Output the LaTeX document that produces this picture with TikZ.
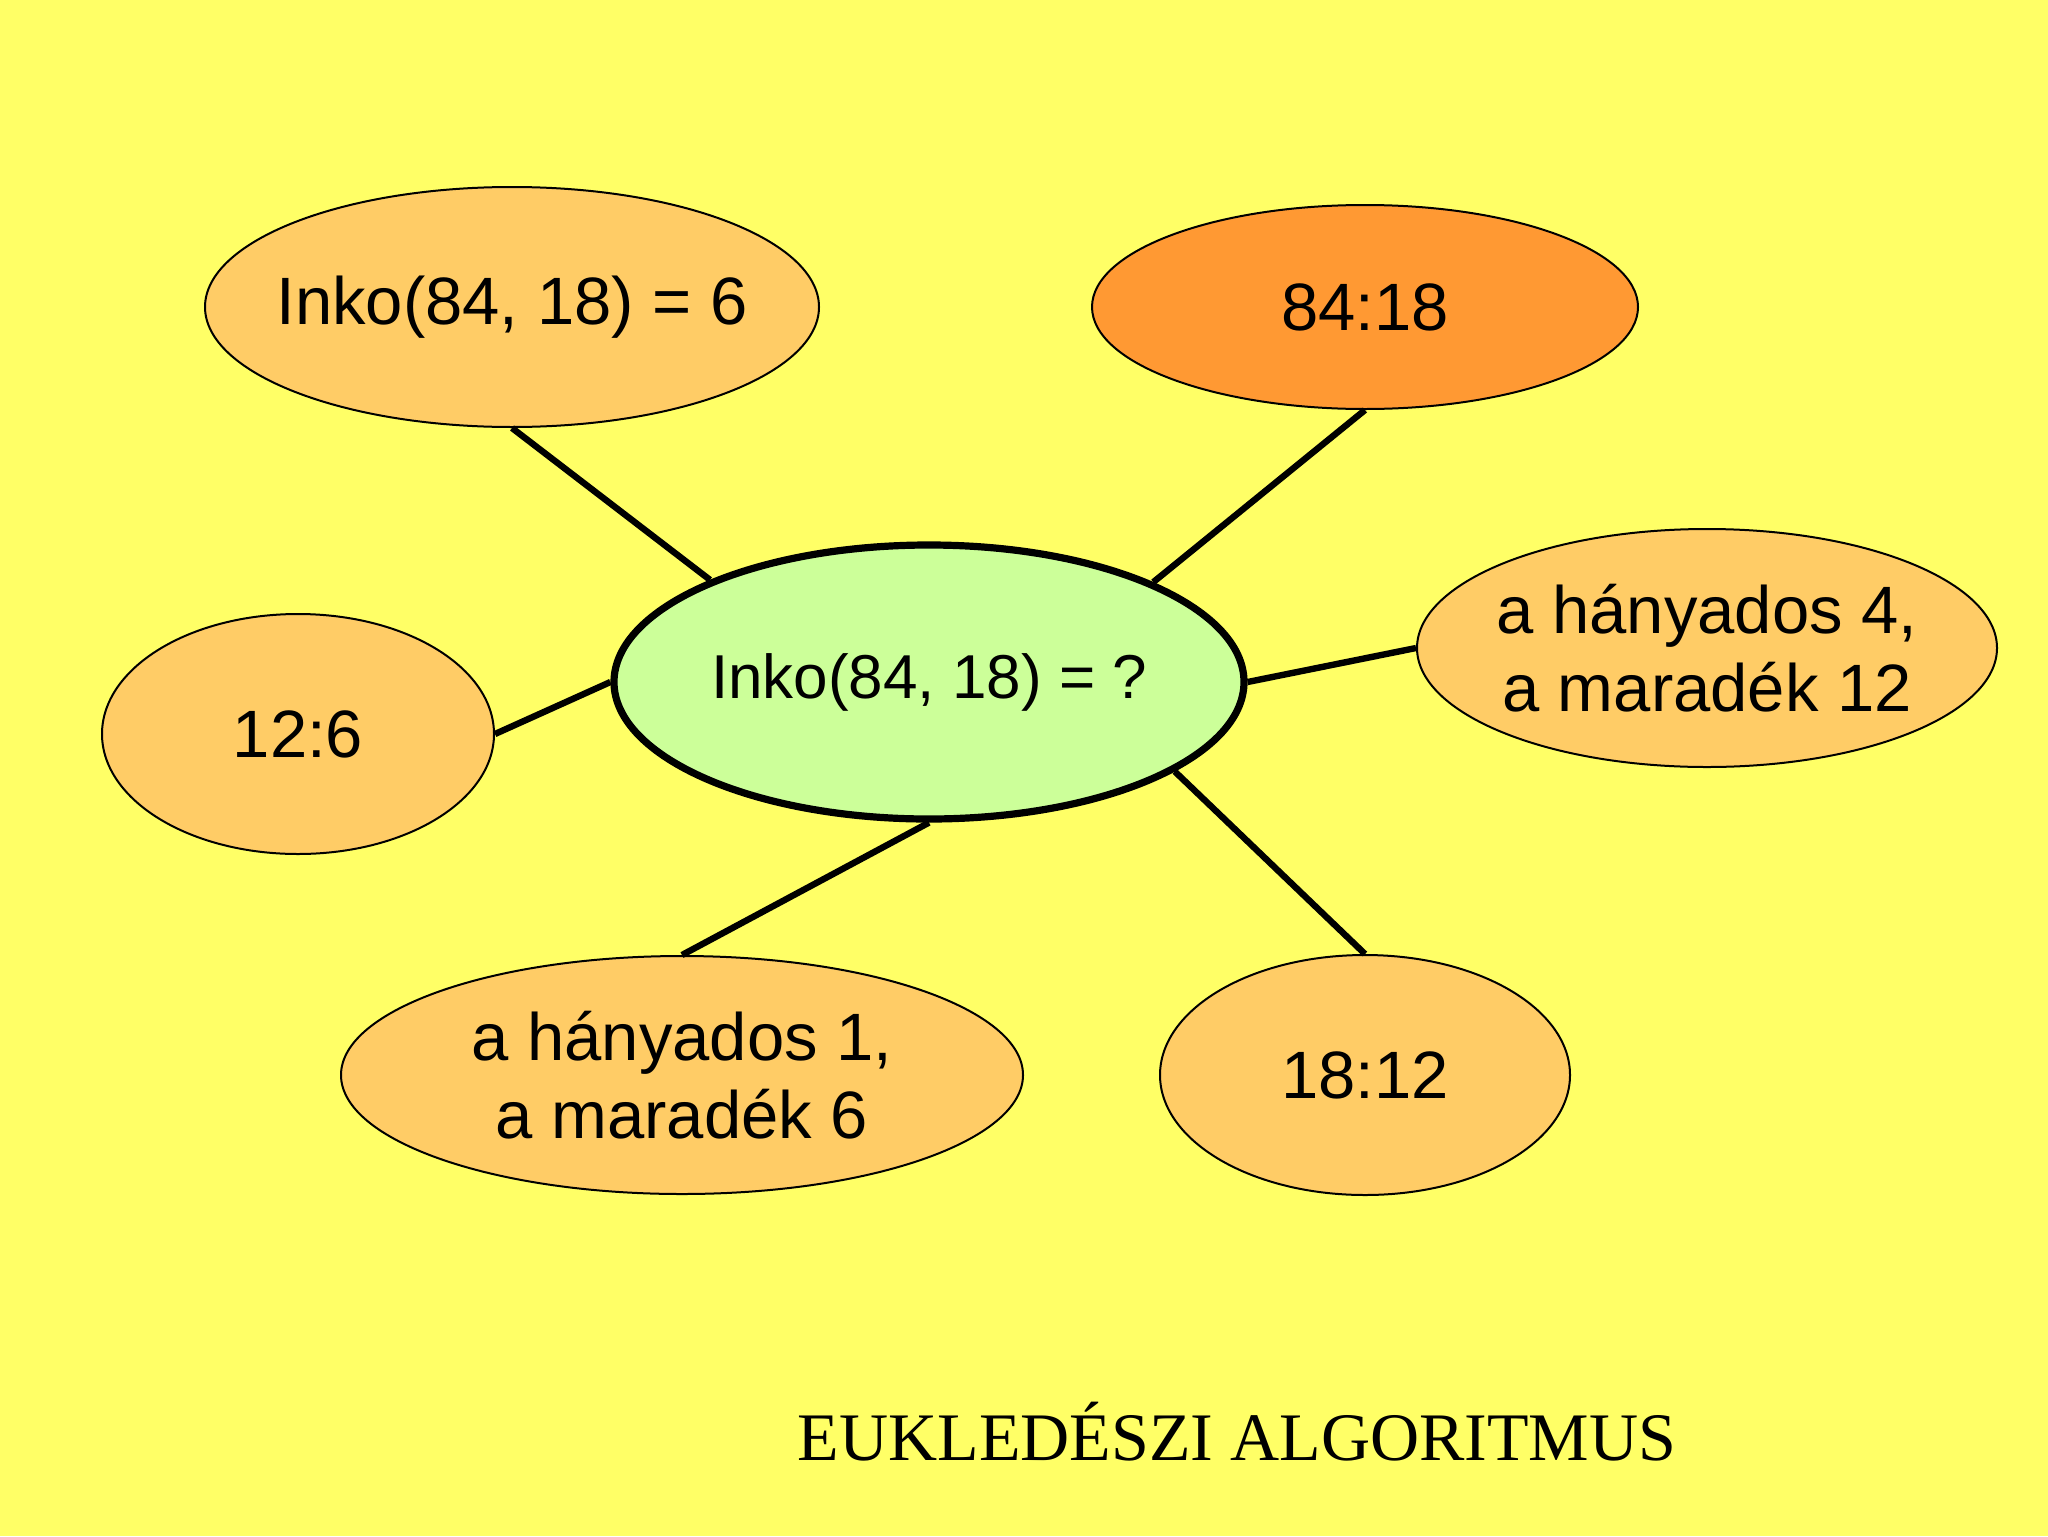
\documentclass[tikz,border=0pt]{standalone}
\usepackage{fontspec}
\setmainfont{Liberation Sans}
\newfontfamily\titlefont{Liberation Serif}
\usepackage{xcolor}
\usepackage{tikz}
\usetikzlibrary{shapes.geometric}
\definecolor{slidebg}{HTML}{FFFF66}
\definecolor{lightorange}{HTML}{FFCC66}
\definecolor{darkorange}{HTML}{FF9933}
\definecolor{lightgreen}{HTML}{CCFF99}

\begin{document}
\begin{tikzpicture}[x=0.5pt, y=-0.5pt,
    outer/.style={ellipse, draw, line width=1pt, fill=lightorange, inner xsep=-30pt, inner ysep=0pt,
        align=center, font=\fontsize{33.5}{39}\selectfont},
    hub/.style={ellipse, draw, line width=3.6pt, fill=lightgreen, inner xsep=-30pt, inner ysep=0pt,
        font=\fontsize{31}{37}\selectfont},
    spoke/.style={line width=3.2pt}]
        \fill[slidebg] (0,0) rectangle (2048,1536);
        \useasboundingbox (0,0) rectangle (2048,1536);

        \node [hub, minimum width=315pt, minimum height=137pt] at (929,682) (hub) {Inko(84, 18) = ?};

        \node [outer, minimum width=307pt, minimum height=120pt] at (512,307) (lnko) {Inko(84, 18) = 6};
        \node [outer, fill=darkorange, minimum width=273pt, minimum height=102pt] at (1365,307) (div1) {84:18};
        \node [outer, minimum width=290pt, minimum height=119pt] at (1707,648) (res1) {a hányados 4,\\ a maradék 12};
        \node [outer, minimum width=205pt, minimum height=120pt] at (1365,1075) (div2) {18:12};
        \node [outer, minimum width=341pt, minimum height=119pt] at (682,1075) (res2) {a hányados 1,\\ a maradék 6};
        \node [outer, minimum width=196pt, minimum height=120pt] at (298,734) (div3) {12:6};

        \draw [spoke] (lnko.south) -- (hub.155);
        \draw [spoke] (div1.south) -- (hub.24);
        \draw [spoke] (res1.west) -- (hub.east);
        \draw [spoke] (hub.-20) -- (div2.north);
        \draw [spoke] (hub.south) -- (res2.north);
        \draw [spoke] (div3.east) -- (hub.west);

        \node [anchor=base, font=\titlefont\fontsize{34}{40}\selectfont] at (1237,1460) (title) {EUKLEDÉSZI ALGORITMUS};
    \end{tikzpicture}
\end{document}
